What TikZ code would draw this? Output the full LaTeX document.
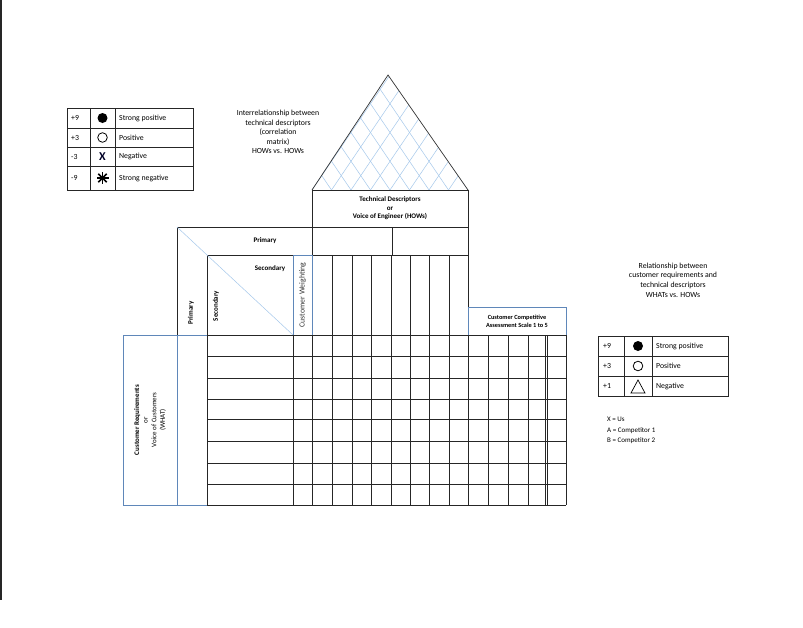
\documentclass[tikz,border=0pt]{standalone}
\usepackage{fontspec}
\setmainfont{Carlito}
\begin{document}
\begin{tikzpicture}[x=1pt,y=-1pt,
  grid/.style={draw=black!85,line width=0.7pt},
  bline/.style={draw={rgb,255:red,95;green,135;blue,185},line width=0.8pt},
  lat/.style={draw={rgb,255:red,165;green,200;blue,235},line width=0.5pt},
  txt/.style={font=\fontsize{7.8}{9.6}\selectfont,align=center,inner sep=0pt},
  btxt/.style={font=\fontsize{7}{8.6}\selectfont\bfseries,align=center,inner sep=0pt},
  ltxt/.style={font=\fontsize{7.8}{9}\selectfont,anchor=west,inner sep=0pt}]
\useasboundingbox (0,0) rectangle (803,627);
\fill[white] (0,0) rectangle (803,627);
\draw[line width=2.5pt,black!85] (1,0) -- (1,600);
% roof
\begin{scope}
\clip (312,190) -- (388,75) -- (468,190) -- cycle;
\foreach \k in {-7,...,8}{
  \draw[lat] (312+19.5*\k,190) -- ++(78*1.6,-115*1.6);
  \draw[lat] (312+19.5*\k,190) -- ++(-78*1.6,-115*1.6);
}
\end{scope}
\draw[black!80,line width=0.7pt] (312,190) -- (388,75) -- (468,190);
% technical descriptors
\draw[grid] (312,190) rectangle (468,227);
\node[btxt] (td) at (390,208.5) {Technical Descriptors\\or\\Voice of Engineer (HOWs)};
\draw[grid] (312,227) rectangle (468,255);
\draw[grid] (392,227) -- (392,255);
% columns upper
\foreach \x in {312,332,352,371,391,410,429,449,468}{\draw[grid] (\x,255) -- (\x,335);}
% left big box
\draw[grid] (177,227) -- (312,227);
\draw[grid] (177,227) -- (177,335);
\draw[lat] (177,227) -- (207,255);
\node[btxt] (prim) at (265,241) {Primary};
\draw[grid] (207,255) -- (293,255); \draw[grid] (207,255) -- (207,335);
\draw[lat] (207,255) -- (293,335);
\node[btxt] (sec) at (270,269) {Secondary};
\node[btxt,rotate=90] (primv) at (191,313) {Primary};
\node[btxt,rotate=90] (secv) at (216,306) {Secondary};
\draw[bline] (293,255) rectangle (312,335);
\node[txt,rotate=90,text=black!80] (cw) at (302.5,295) {Customer Weighting};
% competitive box
\draw[bline] (468,307) rectangle (566,335);
\node[btxt,font=\fontsize{6.3}{7.8}\selectfont\bfseries] (cc) at (517,321) {Customer Competitive\\Assessment Scale 1 to 5};
% WHAT box
\draw[bline] (123,335) rectangle (177,505);
\node[btxt,rotate=90,font=\fontsize{7}{8.6}\selectfont] (what) at (150,420) {\textbf{Customer Requirements}\\or\\Voice of Customers\\(WHAT)};
\draw[bline] (177,335) rectangle (207,505);
% bottom grid
\foreach \y in {335,356,378,399,419,441,463,484,505}{\draw[grid] (207,\y) -- (566,\y);}
\foreach \x in {207,293,312,332,352,371,391,410,429,449,468,488,508,528,547,566}{\draw[grid] (\x,335) -- (\x,505);}
\draw[grid] (545,335) -- (545,505);
% top text
\node[txt] (inter) at (278,132) {Interrelationship between\\technical descriptors\\(correlation\\matrix)\\HOWs vs. HOWs};
\node[txt] (rel) at (673,280) {Relationship between\\customer requirements and\\technical descriptors\\WHATs vs. HOWs};
% legend 1
\draw[grid] (67,108) rectangle (193,190);
\foreach \y in {128,147,166}{\draw[grid] (67,\y) -- (193,\y);}
\draw[grid] (90,108) -- (90,190); \draw[grid] (115,108) -- (115,190);
\node[ltxt] (l1a) at (71,118) {+9};
\node[ltxt] (l1b) at (71,137.5) {+3};
\node[ltxt] (l1c) at (71,156.5) {-3};
\node[ltxt] (l1d) at (71,178) {-9};
\fill (102.5,118) circle (5pt);
\draw[line width=0.8pt] (102.5,137.5) circle (4.8pt);
\node[inner sep=0pt,font=\bfseries\large,text=black!85!blue] (xs) at (102.5,156.5) {X};
\foreach \a in {0,45,90,135}{\draw[line width=1.6pt] (102.5,178) ++(\a:6pt) -- ++(\a+180:12pt);}
\node[ltxt] (l1e) at (119,118) {Strong positive};
\node[ltxt] (l1f) at (119,137.5) {Positive};
\node[ltxt] (l1g) at (119,156.5) {Negative};
\node[ltxt] (l1h) at (119,178) {Strong negative};
% legend 2
\draw[grid] (598,336) rectangle (728,396);
\foreach \y in {356,376}{\draw[grid] (598,\y) -- (728,\y);}
\draw[grid] (624,336) -- (624,396); \draw[grid] (652,336) -- (652,396);
\node[ltxt] (l2a) at (603,346) {+9};
\node[ltxt] (l2b) at (603,366) {+3};
\node[ltxt] (l2c) at (603,386) {+1};
\fill (638,346) circle (5pt);
\draw[line width=0.8pt] (638,366) circle (4.8pt);
\draw[line width=0.7pt] (631,393) -- (638,380) -- (645,393) -- cycle;
\node[ltxt] (l2d) at (656,346) {Strong positive};
\node[ltxt] (l2e) at (656,366) {Positive};
\node[ltxt] (l2f) at (656,386) {Negative};
\node[ltxt,font=\fontsize{7}{10.5}\selectfont,align=left,anchor=north west] (key) at (607,417) {X = Us\\A = Competitor 1\\B = Competitor 2};
\end{tikzpicture}
\end{document}
